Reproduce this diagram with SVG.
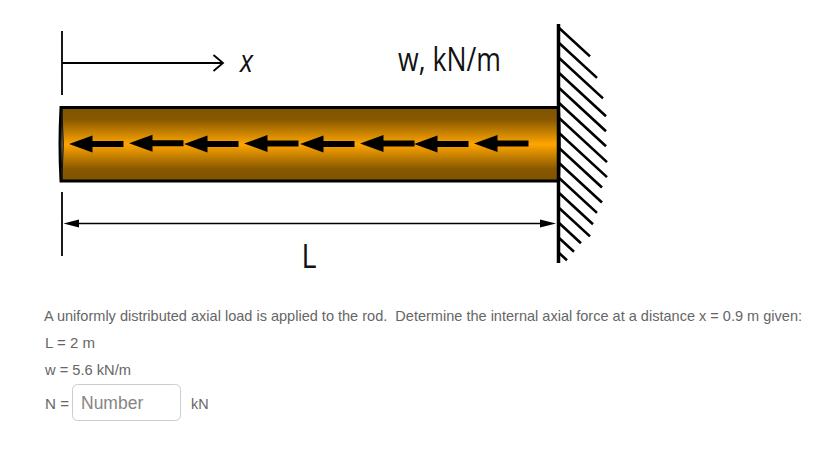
<svg xmlns="http://www.w3.org/2000/svg" width="826" height="453" viewBox="0 0 826 453">
<style>
.body{font-family:"Liberation Sans",Arial,sans-serif;font-size:14.4px;fill:#666;white-space:pre}
.lab{font-family:"Open Sans","Noto Sans",sans-serif;fill:#111}
.thin{stroke:#000;fill:none}
.h{stroke:#000;stroke-width:2.6;fill:none}
</style>
<defs>
<linearGradient id="rod" x1="0" y1="0" x2="0" y2="1">
<stop offset="0" stop-color="#7f5300"/><stop offset="0.16" stop-color="#875800"/><stop offset="0.5" stop-color="#ffa500"/><stop offset="0.84" stop-color="#875800"/><stop offset="1" stop-color="#7f5300"/>
</linearGradient>
<linearGradient id="cap" x1="0" y1="0" x2="1" y2="0">
<stop offset="0" stop-color="#222"/><stop offset="0.6" stop-color="#a08a60"/><stop offset="1" stop-color="#222"/>
</linearGradient>
<polygon id="ar" points="0,0 23.500,-8.500 23.500,-3 54.500,-3 54.500,3 23.500,3 23.500,8.500" fill="#000"/>
</defs>
<rect width="826" height="453" fill="#fff"/>
<g id="rod-node">
<path d="M61 107.500H558.500Q560 144 558.500 181H61Q59 144 61 107.500Z" fill="url(#rod)" stroke="#000" stroke-width="3"/>
<path d="M62 109Q59.500 144 62 180Q64.500 144 62 109Z" fill="url(#cap)" stroke="#111" stroke-width="1"/>
</g>
<g id="load-arrows">
<use href="#ar" x="69" y="144"/><use href="#ar" x="129" y="143.300"/><use href="#ar" x="184" y="144"/><use href="#ar" x="244" y="143.500"/><use href="#ar" x="300" y="144"/><use href="#ar" x="360" y="143.500"/><use href="#ar" x="414" y="144"/><use href="#ar" x="474" y="143.500"/>
</g>
<g id="wall">
<path d="M558.500 24V263" stroke="#000" stroke-width="3.500"/>
<path class="h" d="M558 27L590 56.400M558 42L597 77.900M558 57L603 98.400M558 72L606 116.200M558 87L606 131.200M558 102L606 146.200M558 117L607 162.100M558 132L607 177.100M558 147L602 187.500M558 162L602 202.500M558 177L597 212.900M558 192L593 224.200M558 207L590 236.400M558 222L581 243.200M558 237L574 251.700M558 252L567 260.300"/>
</g>
<g id="connectors">
<path class="thin" stroke-width="1.800" d="M62 31V95M62 63H223M213.500 55L223 63L213.500 71"/>
<path class="thin" stroke-width="1.800" d="M62 192V256"/>
<path class="thin" stroke-width="1.500" d="M78 223.500H542"/>
<polygon points="63.500,223.500 79,219.500 79,227.500" fill="#000"/>
<polygon points="556,223.500 540,219.500 540,227.500" fill="#000"/>
</g>
<g id="labels">
<text class="lab" x="240" y="72" font-size="31" font-style="italic" textLength="13" lengthAdjust="spacingAndGlyphs">x</text>
<text class="lab" x="398" y="70.500" font-size="33" textLength="103" lengthAdjust="spacingAndGlyphs">w, kN/m</text>
<text class="lab" x="301.500" y="268" font-size="32" textLength="15" lengthAdjust="spacingAndGlyphs">L</text>
</g>
<g id="question">
<text class="body" x="44" y="320.500" textLength="758" lengthAdjust="spacingAndGlyphs">A uniformly distributed axial load is applied to the rod.  Determine the internal axial force at a distance x = 0.9 m given:</text>
<text class="body" x="45" y="347.500" textLength="50" lengthAdjust="spacingAndGlyphs">L = 2 m</text>
<text class="body" x="45" y="374.500" textLength="86" lengthAdjust="spacingAndGlyphs">w = 5.6 kN/m</text>
<text class="body" x="45" y="408.500" textLength="24" lengthAdjust="spacingAndGlyphs">N =</text>
</g>
<g id="answer-input">
<rect x="72.500" y="384.500" width="108" height="36" rx="5" fill="#fff" stroke="#ccc"/>
<text x="81" y="409" font-family="'Liberation Sans',Arial,sans-serif" font-size="17.500" fill="#858585">Number</text>
</g>
<text class="body" x="191" y="408.500">kN</text>
</svg>
